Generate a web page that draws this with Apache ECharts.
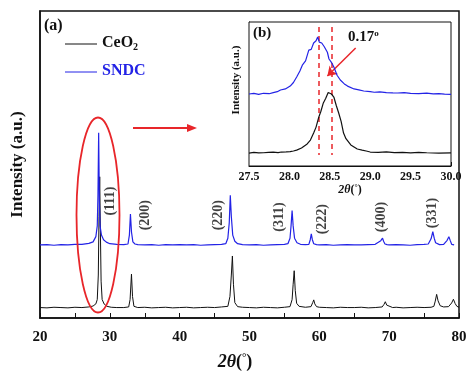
<!DOCTYPE html>
<html><head><meta charset="utf-8">
<script src="https://cdn.jsdelivr.net/npm/echarts@6/dist/echarts.min.js"></script>
<style>html,body{margin:0;padding:0;background:#fff}#c{width:474px;height:378px}</style>
</head><body><div id="c"></div>
<script>
// ---- main pattern (a) ----
const ceo2X = [20,21,22,23,24,25,26,27,27.6,28.0,28.2,28.35,28.45,28.55,28.65,28.75,28.9,29.2,29.6,30.2,31,32,32.7,32.9,33.1,33.25,33.45,34,35,36,37,38,39,40,41,42,43,44,45,46,46.9,47.2,47.4,47.55,47.7,47.9,48.3,49,50,51,52,53,54,55,55.8,56.1,56.25,56.4,56.55,56.75,57.1,58,58.8,59.05,59.2,59.35,59.6,60,61,62,63,64,65,66,67,68,69,69.25,69.45,69.65,69.9,70.5,71,72,73,74,75,76,76.4,76.6,76.8,77.0,77.3,77.8,78.5,78.95,79.2,79.45,79.7,80];
const ceo2Y = [3.4,3.3,3.5,3.4,3.3,3.5,3.4,3.6,3.9,4.6,6,14,33,46,28,12,6,4.5,3.8,3.5,3.4,3.4,3.6,6,14.3,7,3.8,3.4,3.5,3.3,3.4,3.5,3.3,3.4,3.5,3.3,3.4,3.5,3.4,3.6,3.8,7,14,20.2,11,5,3.7,3.5,3.4,3.3,3.5,3.4,3.3,3.5,3.7,6,11,15.4,9,4.8,3.8,3.5,3.7,5,5.9,4.6,3.7,3.5,3.4,3.3,3.5,3.4,3.4,3.5,3.3,3.4,3.6,4.4,5.3,4.2,3.6,3.4,3.5,3.3,3.4,3.5,3.4,3.5,3.8,5.5,7.7,5.6,4,3.6,3.7,4.9,6.1,4.7,3.8,3.5];
const sndcX = [20,21,22,23,24,25,26,27,27.6,28.0,28.2,28.3,28.4,28.5,28.6,28.8,29.1,29.5,30,31,32,32.6,32.8,32.95,33.1,33.3,33.6,34,35,36,37,38,39,40,41,42,43,44,45,46,46.6,46.9,47.1,47.25,47.4,47.6,47.9,48.3,49,50,51,52,53,54,55,55.5,55.8,55.95,56.1,56.25,56.45,56.8,57.3,58,58.5,58.7,58.85,59.0,59.2,59.6,60,61,62,63,64,65,66,67,68,68.8,69.05,69.2,69.4,69.7,70,71,72,73,74,75,75.6,76.0,76.25,76.45,76.65,76.9,77.2,77.8,78.3,78.55,78.75,78.95,79.3,80];
const sndcY = [23.8,23.9,23.7,23.9,23.8,24.0,24.0,24.3,24.8,26.5,30,40,60.3,38,30,27,25.5,24.7,24.2,24.0,23.9,24.1,27,33.9,28,24.8,24.1,23.9,23.8,23.9,23.7,23.9,23.8,23.9,23.8,23.9,23.7,23.8,23.9,24.0,24.2,26,31,40,33,27,25,24.2,23.9,23.8,23.9,23.7,23.8,23.9,24.0,24.2,26,30,35,30,26,24.5,24.0,23.9,24.0,25.5,27.4,25.5,24.2,23.9,23.8,23.9,23.7,23.8,23.9,23.8,23.8,23.9,24.0,25.2,26,25,24.1,23.9,23.8,23.9,23.8,23.7,23.9,24.0,24.1,25.8,28.1,26,24.5,24.0,23.9,24.0,25.3,26.5,25.2,24.0,23.8];
const mainTicks = [20,30,40,50,60,70,80];
const hklText = ['(111)','(200)','(220)','(311)','(222)','(400)','(331)'];
const hklX = [30.1,35.1,45.5,54.3,60.4,68.9,76.2];
const hklY = [38.1,33.5,33.5,32.9,32.2,32.9,34.2];

// ---- inset (b) ----
const inBlueX = [27.5,27.56,27.62,27.68,27.75,27.8,27.85,27.89,27.95,28.01,28.05,28.09,28.13,28.16,28.2,28.24,28.27,28.3,28.33,28.35,28.37,28.4,28.43,28.45,28.47,28.49,28.52,28.55,28.59,28.63,28.68,28.72,28.8,28.86,28.92,29.0,29.05,29.12,29.2,29.28,29.34,29.42,29.5,29.6,29.7,29.78,29.85,29.92,30.0];
const inBlueY = [50,50.4,49.8,50.5,50.2,50.9,51.6,52.8,53.5,55.5,58,61.8,66,70,73,80.5,81,85.4,87,89.6,86,85.4,83,81.9,79,74.3,72,68.8,63,59.7,57,55.5,53.5,52.9,52.1,51.6,51.2,51.5,51,50.8,50.7,51,50.5,50.2,50.6,50.1,50.3,49.9,49.8];
const inBlackX = [27.5,27.56,27.62,27.68,27.74,27.8,27.86,27.9,27.96,28.01,28.05,28.09,28.15,28.22,28.26,28.3,28.33,28.36,28.39,28.42,28.45,28.48,28.5,28.52,28.55,28.58,28.61,28.64,28.67,28.7,28.76,28.84,28.9,28.95,29.0,29.1,29.2,29.3,29.4,29.5,29.6,29.7,29.85,30.0];
const inBlackY = [9,9.4,9.1,9.2,9.5,9.6,9.3,9.7,9.8,10,10.4,11,12.5,15.3,18,22.9,27,33.3,38,43.8,47,51,52.3,50,47.9,42,36.8,31,22.9,19,14.6,11.8,11,10.4,9.7,9.5,9.8,9.3,9.5,9.1,9.4,9.2,9.0,9.1];
const insetTicks = [27.5,28.0,28.5,29.0,29.5,30.0];
const shiftLines = [28.36,28.53];

const FONT = 'Liberation Serif';
const BLUE = '#2323e6';
const RED = '#e8262a';
const zip = (a,b)=>a.map((v,i)=>[v,b[i]]);

const chart = echarts.init(document.getElementById('c'));
chart.setOption({
  animation:false,
  backgroundColor:'#fff',
  grid:[
    {left:40,top:11,width:419,height:307,show:true,borderColor:'#111',borderWidth:1.5,backgroundColor:'transparent'},
    {left:249,top:22,width:202,height:144,show:true,borderColor:'#111',borderWidth:1,backgroundColor:'#fff',z:5}
  ],
  xAxis:[
    {gridIndex:0,type:'value',min:mainTicks[0],max:mainTicks[mainTicks.length-1],interval:10,
     axisLine:{onZero:false,lineStyle:{color:'#111',width:1.5}},
     axisTick:{inside:true,length:5,lineStyle:{color:'#111'}},
     minorTick:{show:true,splitNumber:2,length:5,lineStyle:{color:'#111'}},
     splitLine:{show:false},
     axisLabel:{margin:12,color:'#111',fontFamily:FONT,fontWeight:'bold',fontSize:15}},
    {gridIndex:1,type:'value',min:insetTicks[0],max:insetTicks[insetTicks.length-1],interval:0.5,
     axisLine:{onZero:false,lineStyle:{color:'#111',width:1}},
     axisTick:{inside:true,length:4,lineStyle:{color:'#111'}},
     minorTick:{show:true,splitNumber:2,length:3,lineStyle:{color:'#111'}},
     splitLine:{show:false},
     axisLabel:{margin:5,color:'#111',fontFamily:FONT,fontWeight:'bold',fontSize:12,formatter:v=>v.toFixed(1)}}
  ],
  yAxis:[
    {gridIndex:0,type:'value',min:0,max:100,axisLine:{show:true,lineStyle:{color:'#111',width:1.5}},axisTick:{show:false},axisLabel:{show:false},splitLine:{show:false},
     name:'Intensity (a.u.)',nameLocation:'middle',nameGap:14,nameTextStyle:{fontFamily:FONT,fontWeight:'bold',fontSize:17,color:'#111'}},
    {gridIndex:1,type:'value',min:0,max:100,axisLine:{show:true,lineStyle:{color:'#111'}},axisTick:{show:false},axisLabel:{show:false},splitLine:{show:false}}
  ],
  series:[
    {type:'line',xAxisIndex:0,yAxisIndex:0,data:zip(ceo2X,ceo2Y),showSymbol:false,lineStyle:{color:'#111',width:1},z:2},
    {type:'line',xAxisIndex:0,yAxisIndex:0,data:zip(sndcX,sndcY),showSymbol:false,lineStyle:{color:BLUE,width:1.2},z:3},
    {type:'scatter',xAxisIndex:0,yAxisIndex:0,symbolSize:0,data:hklX.map((x,i)=>({value:[x,hklY[i]],name:hklText[i]})),
     label:{show:true,position:'inside',rotate:90,formatter:p=>p.name,fontFamily:FONT,fontWeight:'bold',fontSize:14,color:'#111'},silent:true,z:4},
    {type:'line',xAxisIndex:1,yAxisIndex:1,data:zip(inBlackX,inBlackY),showSymbol:false,lineStyle:{color:'#111',width:1.2},z:6},
    {type:'line',xAxisIndex:1,yAxisIndex:1,data:zip(inBlueX,inBlueY),showSymbol:false,lineStyle:{color:BLUE,width:1.2},z:6,
     markLine:{silent:true,symbol:['none','none'],animation:false,label:{show:false},
       lineStyle:{color:RED,type:[5,4],width:1.5},
       data:shiftLines.map(x=>[{coord:[x,96.5]},{coord:[x,7.6]}]).concat([
         [{coord:[28.82,81.9],symbol:'none'},{coord:[28.47,62.5],symbol:'arrow',symbolSize:9,lineStyle:{type:'solid',width:1.5,color:RED}}]
       ])},z:7}
  ],
  graphic:[
    {type:'text',left:44,top:18,style:{text:'(a)',font:'bold 16px '+FONT,fill:'#111'}},
    {type:'line',shape:{x1:65,y1:44,x2:97,y2:44},style:{stroke:'#111',lineWidth:1}},
    {type:'text',left:102,top:35,style:{text:'{b|CeO}{s|2}',rich:{b:{font:'bold 16px '+FONT,fill:'#111'},s:{font:'bold 10px '+FONT,fill:'#111',padding:[8,0,0,0]}}}},
    {type:'line',shape:{x1:65,y1:72,x2:97,y2:72},style:{stroke:BLUE,lineWidth:1}},
    {type:'text',left:102,top:63,style:{text:'SNDC',font:'bold 16px '+FONT,fill:BLUE}},
    {type:'ellipse',shape:{cx:98,cy:215,rx:21.5,ry:97.5},style:{fill:'none',stroke:RED,lineWidth:1.8},z:10},
    {type:'line',shape:{x1:133,y1:128,x2:190,y2:128},style:{stroke:RED,lineWidth:2}},
    {type:'polygon',shape:{points:[[197,128],[187,124],[187,132]]},style:{fill:RED}},
    {type:'text',x:235,y:362,style:{text:'{i|2θ}{n|(}{s|°}{n|)}',align:'center',verticalAlign:'middle',
      rich:{i:{font:'italic bold 18px '+FONT,fill:'#111'},n:{font:'bold 18px '+FONT,fill:'#111'},s:{font:'bold 11px '+FONT,fill:'#111',padding:[0,0,8,0]}}}},
    {type:'text',x:350,y:190,z:20,style:{text:'{i|2θ}{n|(}{s|°}{n|)}',align:'center',verticalAlign:'middle',
      rich:{i:{font:'italic bold 12px '+FONT,fill:'#111'},n:{font:'bold 12px '+FONT,fill:'#111'},s:{font:'bold 8px '+FONT,fill:'#111',padding:[0,0,5,0]}}}},
    {type:'text',x:236,y:80,rotation:Math.PI/2,z:20,style:{text:'Intensity (a.u.)',align:'center',verticalAlign:'middle',font:'bold 11px '+FONT,fill:'#111'}},
    {type:'text',left:253,top:26,z:20,style:{text:'(b)',font:'bold 15px '+FONT,fill:'#111'}},
    {type:'text',left:348,top:29,z:20,style:{text:'{n|0.17}{s|o}',rich:{n:{font:'bold 15px '+FONT,fill:'#111'},s:{font:'bold 9px '+FONT,fill:'#111',padding:[0,0,8,0]}}}}
  ]
});
</script></body></html>
